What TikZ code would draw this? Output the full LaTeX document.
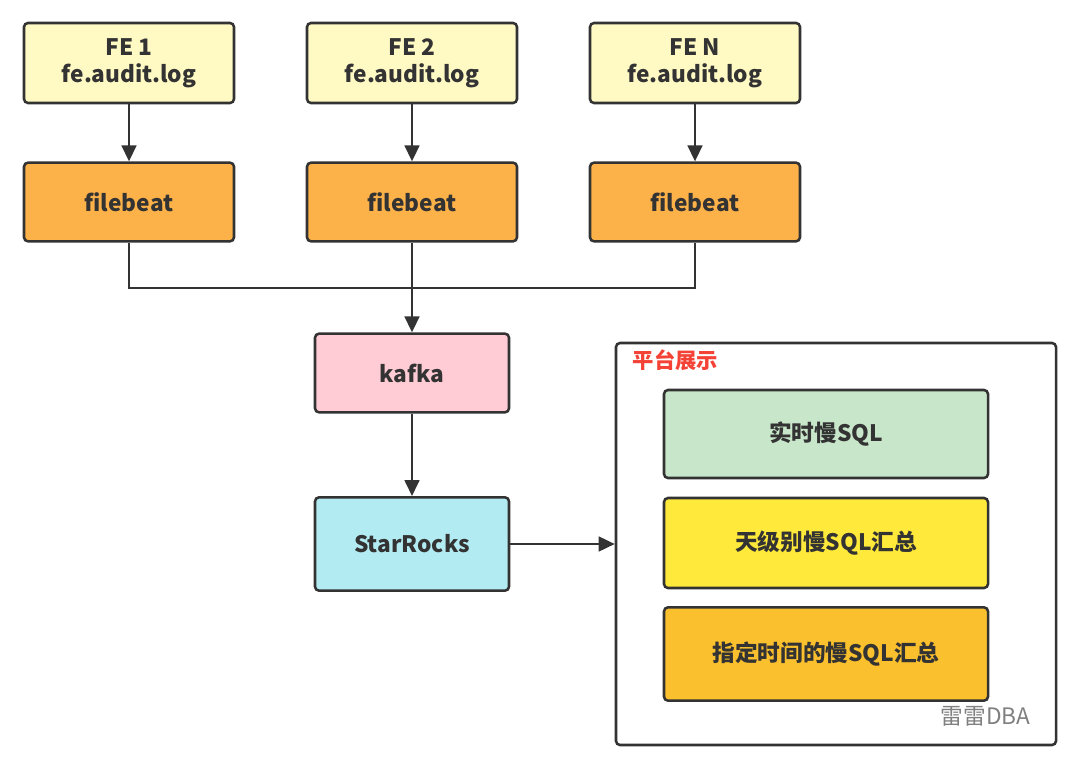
\documentclass[tikz,border=0pt]{standalone}
\usepackage{fontspec}
\setmainfont{Noto Sans CJK SC}
\usetikzlibrary{arrows.meta}
\definecolor{bd}{HTML}{333333}
\definecolor{fey}{HTML}{FFF9C4}
\definecolor{fb}{HTML}{FDB249}
\definecolor{kf}{HTML}{FFCCD5}
\definecolor{sr}{HTML}{B2EBF2}
\definecolor{g1}{HTML}{C8E6C9}
\definecolor{y1}{HTML}{FFE93A}
\definecolor{o1}{HTML}{FBC02D}
\definecolor{tr}{HTML}{F44336}
\begin{document}
\begin{tikzpicture}[x=0.75pt,y=-0.75pt,
 box/.style={draw=bd,line width=1.9pt,rounded corners=3pt,align=center,font=\bfseries\fontsize{17}{20}\selectfont,text=bd,inner sep=0pt},
 arr/.style={draw=bd,line width=1.9pt,-{Triangle[length=12pt,width=11pt]}},
 ln/.style={draw=bd,line width=1.9pt}]
\useasboundingbox (0,0) rectangle (1080,763);
\node[box,fill=fey,minimum width=157.5pt,minimum height=60pt] (fe1) at (129,63) {FE 1\\fe.audit.log};
\node[box,fill=fey,minimum width=157.5pt,minimum height=60pt] (fe2) at (412,63) {FE 2\\fe.audit.log};
\node[box,fill=fey,minimum width=157.5pt,minimum height=60pt] (fen) at (695,63) {FE N\\fe.audit.log};
\node[box,fill=fb,minimum width=157.5pt,minimum height=59pt] (fb1) at (129,202) {filebeat};
\node[box,fill=fb,minimum width=157.5pt,minimum height=59pt] (fb2) at (412,202) {filebeat};
\node[box,fill=fb,minimum width=157.5pt,minimum height=59pt] (fbn) at (695,202) {filebeat};
\draw[arr] (fe1) -- (fb1);
\draw[arr] (fe2) -- (fb2);
\draw[arr] (fen) -- (fbn);
\node[box,fill=kf,minimum width=145.5pt,minimum height=59pt] (kf) at (412,373) {kafka};
\node[box,fill=sr,minimum width=145.5pt,minimum height=70pt] (sr) at (412,544) {StarRocks};
\coordinate (j) at (412,288);
\draw[ln] (fb1.south) |- (j);
\draw[ln] (fbn.south) |- (j);
\draw[arr] (fb2) -- (kf);
\draw[arr] (kf) -- (sr);
\node[box,fill=white,minimum width=330pt,minimum height=301.5pt] (pl) at (836,544) {};
\draw[arr] (sr.east) -- (pl.west |- sr.east);
\node[anchor=west,text=tr,font=\bfseries\fontsize{16}{19}\selectfont] (t) at (628,360) {平台展示};
\node[box,fill=g1,minimum width=243pt,minimum height=66pt] (a) at (826,434) {实时慢SQL};
\node[box,fill=y1,minimum width=243pt,minimum height=67.5pt] (b) at (826,543) {天级别慢SQL汇总};
\node[box,fill=o1,minimum width=243pt,minimum height=70pt] (c) at (826,654) {指定时间的慢SQL汇总};
\node[anchor=west,text=gray,font=\fontsize{17}{20}\selectfont] (w) at (936,716) {雷雷DBA};
\end{tikzpicture}
\end{document}
